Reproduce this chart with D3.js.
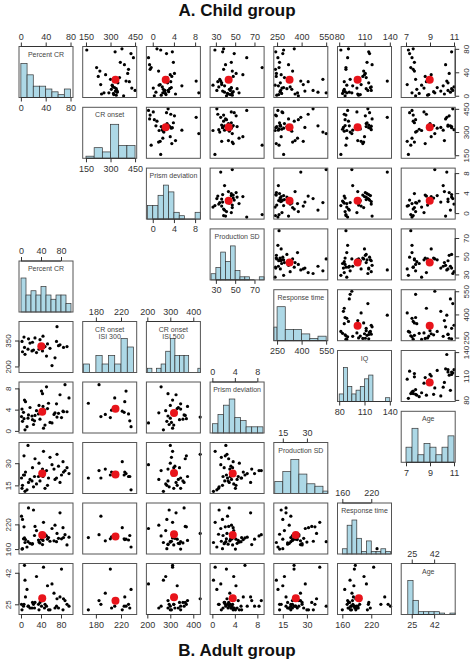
<!DOCTYPE html>
<html><head><meta charset="utf-8">
<script src="https://cdn.jsdelivr.net/npm/d3@7"></script>
<style>body{margin:0;background:#fff}svg{font-family:"Liberation Sans",Arial,sans-serif}</style>
</head><body><svg id="c" width="474" height="663"></svg>
<script>
// Child group values, one entry per subject
var cPct = [2,45,12,78,5,22,0,33,15,65,8,57,3,18,72,6,36,11,25,1,48,9,14,80,4,38,19,7,53,28,13,75,5,31,17,42,24,9];
var cOnset = [320,410,335,155,290,345,380,225,315,440,330,360,245,310,425,340,270,305,395,335,215,450,325,370,318,405,240,342,385,300,430,328,260,355,312,235,415,338];
var cPrism = [2.5,-0.5,3.2,1.5,8.7,2.8,0.3,3.6,1.8,-0.8,2.2,3.9,4.3,1.2,2.6,0.6,3.3,2.0,8.2,1.6,-0.3,2.9,3.5,0.8,2.4,4.1,1.4,3.0,-0.6,2.1,0.1,3.7,1.9,2.7,5.5,1.1,3.4,2.3];
var cProd = [45,38,52,29,47,36,41,48,33,62,37,46,43,27,49,39,58,44,35,47,78,31,46,38,42,51,36,48,40,34,46,37,54,43,39,47,32,45];
var cResp = [260,240,310,290,550,270,380,245,330,255,420,265,360,238,285,500,275,340,395,248,262,470,290,355,278,246,410,268,320,530,280,242,375,295,258,345,440,272];
var cIQ = [105,88,112,82,95,115,87,108,118,90,85,113,102,89,116,92,110,86,137,103,88,114,117,91,84,111,106,87,119,93,101,115,89,112,96,109,86,118];
var cAge = [8.9,7.6,10.8,7.2,9.4,10.5,7.8,8.6,11.0,7.5,9.9,7.7,10.2,8.3,7.3,10.7,9.1,7.9,10.4,8.8,7.4,10.9,9.6,7.6,8.1,10.6,7.1,9.3,10.3,7.8,8.5,10.8,7.5,9.0,10.1,7.7,8.7,10.5];

// Adult group values
var aPct = [5,45,22,88,2,62,35,14,78,47,8,28,55,92,3,41,72,18,66,25,7,84,38,51,12,75,44,1,58,31,96,23,68,9,48,36,81,15,43,27,53,6,71,85];
var aIsi300 = [225,null,null,185,null,null,232,null,null,205,null,null,168,null,null,228,null,null,195,null,null,222,null,null,236,null,null,188,null,null,210,null,null,226,null,null,203,null,null,234,null,null,null,null];
var aIsi500 = [null,310,290,null,345,205,null,300,325,null,270,365,null,315,285,null,430,335,null,295,310,null,355,260,null,320,375,null,305,280,null,340,250,null,315,300,null,360,290,null,330,370,345,310];
var aPrism = [3.5,0.5,2.8,8.7,4.1,1.5,3.2,2.4,6.8,3.9,0.2,2.9,5.2,3.6,1.8,7.5,2.6,4.4,3.1,1.2,5.8,3.7,2.2,8.3,0.8,3.3,4.6,2.7,1.6,3.8,6.2,2.1,3.4,5.5,1.1,4.8,2.5,3.0,7.0,1.9,4.2,2.3,5.1,3.6];
var aProd = [22,38,18,25,13,29,21,42,17,24,11,33,20,27,15,23,36,19,26,14,22,31,18,25,12,28,21,20,34,16,23,27,19,24,13,30,22,17,26,21,15,35,20,24];
var aResp = [185,225,172,195,160,210,182,178,248,190,176,215,188,170,232,184,198,174,180,255,187,212,175,192,165,186,181,240,179,205,189,173,218,183,196,177,185,260,171,193,184,214,178,188];
var aAge = [24,45,23,27,22,36,25,24,29,23,38,26,22,25,55,24,28,23,31,25,46,22,26,24,33,23,27,25,22,40,24,26,23,29,25,22,44,24,27,23,35,25,24,28];

var childVars = [
	{name:"Percent CR", v:cPct, dom:[-3,84], ticks:[0,40,80], bins:d3.range(0,90,10)},
	{name:"CR onset", v:cOnset, dom:[130,460], ticks:[150,300,450], bins:d3.range(150,500,50)},
	{name:"Prism deviation", v:cPrism, dom:[-1.2,9], ticks:[0,4,8], bins:d3.range(-1,10,1)},
	{name:"Production SD", v:cProd, dom:[24,80], ticks:[30,50,70], bins:d3.range(25,85,5)},
	{name:"Response time", v:cResp, dom:[230,560], ticks:[250,400,550], bins:d3.range(200,600,50)},
	{name:"IQ", v:cIQ, dom:[78,142], ticks:[80,110,140], bins:d3.range(80,145,5)},
	{name:"Age", v:cAge, dom:[6.6,11.1], ticks:[7,9,11], bins:d3.range(6.5,11.5,0.5)}
];
var adultVars = [
	{name:"Percent CR", v:aPct, dom:[-4,104], ticks:[0,40,80], bins:d3.range(0,110,10)},
	{name:"CR onset\nISI 300", v:aIsi300, dom:[159,245], ticks:[180,220], bins:d3.range(160,250,10)},
	{name:"CR onset\nISI 500", v:aIsi500, dom:[196,431], ticks:[200,300,400], bins:d3.range(200,460,20)},
	{name:"Prism deviation", v:aPrism, dom:[-0.4,9.2], ticks:[0,4,8], bins:d3.range(0,10,1)},
	{name:"Production SD", v:aProd, dom:[9.4,43], ticks:[15,30], bins:d3.range(10,50,5)},
	{name:"Response time", v:aResp, dom:[150,262], ticks:[160,220], bins:d3.range(150,270,10)},
	{name:"Age", v:aAge, dom:[17,58], ticks:[25,42], bins:d3.range(18,62,4)}
];
// y variable of adult row 1 uses the ISI 500 onsets
var adultRowY = [
	{v:aPct, dom:[-4,104]},
	{v:aIsi500, dom:[165,460], ticks:[200,350]},
	{v:aPrism, dom:[-0.4,9.2]},
	{v:aProd, dom:[9.5,44]},
	{v:aResp, dom:[148,272]},
	{v:aAge, dom:[19.5,47]}
];
var adultDiag = [[0],[1,2],[3],[4],[5],[6]];

var svg = d3.select("#c");
var W = 54, H = 51;
function colX(c) { return 19 + c * 63.7; }
function childY(r) { return 46.5 + r * 60.8; }
function adultY(r) { return 261 + r * 60.5; }

function box(g, w, h) {
	g.append("rect").attr("width", w).attr("height", h)
		.attr("fill", "none").attr("stroke", "#555").attr("stroke-width", 1);
}

function histCell(x0, y0, d) {
	var g = svg.append("g").attr("transform", "translate(" + x0 + "," + y0 + ")");
	var x = d3.scaleLinear().domain(d.dom).range([0, W]);
	var vals = d.v.filter(function(a){ return a != null; });
	var th = d.bins;
	var bins = d3.bin().domain([th[0], th[th.length - 1]]).thresholds(th)(vals);
	var y = d3.scaleLinear().domain([0, d3.max(bins, function(b){ return b.length; }) * 1.5]).range([H, 0]);
	g.selectAll("rect.b").data(bins.filter(function(b){ return b.length; })).enter().append("rect")
		.attr("x", function(b){ return Math.max(0, x(b.x0)); })
		.attr("width", function(b){ return Math.min(W, x(b.x1)) - Math.max(0, x(b.x0)); })
		.attr("y", function(b){ return y(b.length); })
		.attr("height", function(b){ return H - y(b.length); })
		.attr("fill", "#add8e6").attr("stroke", "#333").attr("stroke-width", 0.7);
	var lines = d.name.split("\n");
	lines.forEach(function(t, i) {
		g.append("text").attr("x", W / 2).attr("y", 10 + i * 7.5).attr("text-anchor", "middle")
			.attr("font-size", 7).attr("fill", "#444").text(t);
	});
	box(g, W, H);
}

function scatterCell(x0, y0, xv, xd, yv, yd) {
	var g = svg.append("g").attr("transform", "translate(" + x0 + "," + y0 + ")");
	var x = d3.scaleLinear().domain(xd).range([0, W]);
	var y = d3.scaleLinear().domain(yd).range([H, 0]);
	var pts = xv.map(function(a, i){ return [a, yv[i]]; })
		.filter(function(p){ return p[0] != null && p[1] != null; });
	g.selectAll("circle").data(pts).enter().append("circle")
		.attr("cx", function(p){ return x(p[0]); }).attr("cy", function(p){ return y(p[1]); })
		.attr("r", 1.6).attr("fill", "#000");
	g.append("circle")
		.attr("cx", x(d3.mean(pts, function(p){ return p[0]; })))
		.attr("cy", y(d3.mean(pts, function(p){ return p[1]; })))
		.attr("r", 4).attr("fill", "#e8141b");
	box(g, W, H);
}

// R style axis: line only between first and last tick
function axis(orient, x0, y0, dom, ticks) {
	var vert = orient == "left" || orient == "right";
	var s = d3.scaleLinear().domain(dom).range(vert ? [H, 0] : [0, W]);
	var a = {top:d3.axisTop, bottom:d3.axisBottom, left:d3.axisLeft, right:d3.axisRight}[orient](s)
		.tickValues(ticks).tickFormat(d3.format("~g")).tickSize(4).tickPadding(3);
	var g = svg.append("g").attr("transform", "translate(" + x0 + "," + y0 + ")").call(a);
	g.select(".domain").remove();
	var p0 = s(ticks[0]), p1 = s(ticks[ticks.length - 1]);
	if (!vert)
		g.append("line").attr("x1", p0).attr("x2", p1).attr("stroke", "#333");
	else
		g.append("line").attr("y1", p0).attr("y2", p1).attr("stroke", "#333");
	g.selectAll("line").attr("stroke", "#333");
	g.selectAll("text").attr("font-size", vert ? 8 : 9).attr("fill", "#333").attr("font-family", "Liberation Sans, Arial");
	if (vert) {
		g.selectAll(".tick text").attr("text-anchor", "middle").attr("dy", 0)
			.attr("x", 0).attr("y", 0)
			.attr("transform", orient == "right" ? "translate(8,0) rotate(-90)" : "translate(-8,0) rotate(-90)")
			.attr("dominant-baseline", orient == "right" ? "hanging" : "auto");
	}
}

// titles
svg.append("text").attr("x", 237).attr("y", 16).attr("text-anchor", "middle")
	.attr("font-size", 17).attr("font-weight", "bold").attr("fill", "#111").text("A. Child group");
svg.append("text").attr("x", 237).attr("y", 656).attr("text-anchor", "middle")
	.attr("font-size", 17).attr("font-weight", "bold").attr("fill", "#111").text("B. Adult group");

// child: upper triangle
childVars.forEach(function(rv, r) {
	childVars.forEach(function(cv, c) {
		if (c < r) return;
		if (c == r) histCell(colX(c), childY(r), cv);
		else scatterCell(colX(c), childY(r), cv.v, cv.dom, rv.v, rv.dom);
	});
	axis("top", colX(r), childY(0), rv.dom, rv.ticks);
	axis("bottom", colX(r), childY(r) + H, rv.dom, rv.ticks);
	if (r < 6) axis("right", colX(6) + W, childY(r), rv.dom, rv.ticks);
});

// adult: lower triangle
adultRowY.forEach(function(ry, r) {
	var diag = adultDiag[r];
	diag.forEach(function(c) {
		histCell(colX(c), adultY(r), adultVars[c]);
		axis("top", colX(c), adultY(r), adultVars[c].dom, adultVars[c].ticks);
	});
	for (var c = 0; c < diag[0]; c++)
		scatterCell(colX(c), adultY(r), adultVars[c].v, adultVars[c].dom, ry.v, ry.dom);
	if (r > 0) axis("left", colX(0), adultY(r), ry.dom, ry.ticks || adultVars[diag[0]].ticks);
});
adultVars.forEach(function(cv, c) {
	axis("bottom", colX(c), adultY(5) + H, cv.dom, cv.ticks);
});
</script>
</body></html>
